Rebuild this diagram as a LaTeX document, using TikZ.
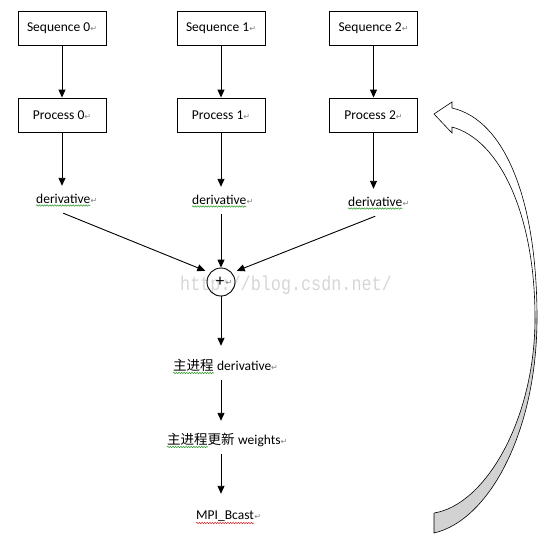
\documentclass[tikz,border=0pt]{standalone}
\usepackage{fontspec}
\usepackage{graphicx}
\setmainfont{Carlito}
\newfontfamily\cjk{Noto Sans CJK SC}
\newfontfamily\wmfont{Liberation Mono}
\newfontfamily\dvfont{DejaVu Sans}
\usetikzlibrary{arrows.meta,decorations.pathmorphing}
\definecolor{wavegreen}{RGB}{40,150,40}
\definecolor{wavered}{RGB}{220,30,30}
\definecolor{ribbon}{RGB}{210,210,210}
\newcommand\retmark{{\dvfont\fontsize{8pt}{8pt}\selectfont\textcolor{black!50}{↵}}}
\newcommand\fs{\fontsize{13.5pt}{16pt}\selectfont}
\begin{document}
\begin{tikzpicture}[x=1pt,y=-1pt,
  box/.style={draw,line width=0.9pt,minimum width=88pt,minimum height=34pt,inner sep=0pt,font=\fs},
  lbl/.style={anchor=base west,inner xsep=0pt,inner ysep=7pt,text height=10pt,text depth=3pt,font=\fs},
  arr/.style={line width=0.9pt,-{Triangle[length=8pt,width=7pt]}},
  gsq/.style={draw=wavegreen,line width=0.5pt,decorate,decoration={snake,amplitude=0.7pt,segment length=2.6pt}},
  rsq/.style={gsq,draw=wavered},
  ribbonline/.style={line width=0.6pt,line join=miter}
]
\useasboundingbox (0,0) rectangle (551,547);

% top row boxes
\node[box] (s0) at (62,28) {Sequence 0\retmark};
\node[box] (s1) at (221,28) {Sequence 1\retmark};
\node[box] (s2) at (373.5,28) {Sequence 2\retmark};
\node[box] (p0) at (62,115) {Process 0\retmark};
\node[box] (p1) at (221,115) {Process 1\retmark};
\node[box] (p2) at (373.5,115) {Process 2\retmark};

% derivative labels
\node[lbl] (d0) at (36,203) {derivative};
\node[lbl] (d0m) at (d0.base east) {\retmark};
\node[lbl] (d1) at (192,204) {derivative};
\node[lbl] (d1m) at (d1.base east) {\retmark};
\node[lbl] (d2) at (348,206) {derivative};
\node[lbl] (d2m) at (d2.base east) {\retmark};

% sum circle
\node[draw,circle,minimum size=28pt,inner sep=0pt,line width=0.9pt] (c) at (221,282) {};
\node[inner sep=0pt,font=\fontsize{17pt}{17pt}\selectfont] (plus) at ([xshift=-1pt]c.center) {+};
\node[inner sep=0pt,anchor=west] (cm) at ([xshift=1pt,yshift=-1pt]plus.east) {\retmark};

% master column
\node[lbl] (m1) at (173,370) {\cjk 主进程};
\node[lbl] (m1r) at (m1.base east) {\ derivative\retmark};
\node[lbl] (m2) at (167,444) {\cjk 主进程更新};
\node[lbl] (m2r) at (m2.base east) {\ weights\retmark};
\node[lbl] (m3) at (196,519) {MPI\_Bcast};
\node[lbl] (m3m) at (m3.base east) {\retmark};

% spelling squiggles
\draw[gsq] ([yshift=-2.5pt]d0.base west) -- ([yshift=-2.5pt]d0.base east);
\draw[gsq] ([yshift=-2.5pt]d1.base west) -- ([yshift=-2.5pt]d1.base east);
\draw[gsq] ([yshift=-2.5pt]d2.base west) -- ([yshift=-2.5pt]d2.base east);
\draw[gsq] ([yshift=-3pt]m1.base west) -- ([yshift=-3pt]m1.base east);
\draw[gsq] ([yshift=-3pt]m2.base west) -- ([yshift=-3pt,xshift=-27pt]m2.base east);
\draw[rsq] ([yshift=-4pt]m3.base west) -- ([yshift=-4pt]m3.base east);

% connectors
\draw[arr] (s0) -- (p0);
\draw[arr] (s1) -- (p1);
\draw[arr] (s2) -- (p2);
\draw[arr] (p0) -- (p0 |- d0.north);
\draw[arr] (p1) -- (p1 |- d1.north);
\draw[arr] (p2) -- (p2 |- d2.north);
\draw[arr,shorten >=5pt] (d0.south) -- (c.140);
\draw[arr] (d1.south -| c) -- (c.north);
\draw[arr,shorten >=5pt] (d2.south) -- (c.40);
\draw[arr,shorten >=7pt] (c.south) -- (c |- m1.north);
\draw[arr,shorten >=6pt] (m1.south -| c) -- (c |- m2.north);
\draw[arr,shorten >=8pt] (m2.south -| c) -- (c |- m3.north);

% curved return arrow (ribbon)
\fill[ribbon] (434,533) .. controls (490,520) and (537,430) .. (537,318)
  -- (535,318) .. controls (535,420) and (485,505) .. (434,513) -- cycle;
\draw[ribbonline] (434,513) -- (434,533)
  .. controls (490,520) and (537,430) .. (537,318)
  .. controls (537,200) and (505,120) .. (452,108)
  -- (452,102) -- (434,114) -- (452,133) -- (452,127)
  .. controls (500,140) and (535,215) .. (535,318)
  .. controls (535,420) and (485,505) .. (434,513);

% watermark
\node[anchor=base west,inner sep=0pt,text=black,opacity=0.16] (wm) at (180,290)
  {\scalebox{0.84}[1]{\wmfont\fontsize{20pt}{20pt}\selectfont http://blog.csdn.net/}};
\end{tikzpicture}
\end{document}
